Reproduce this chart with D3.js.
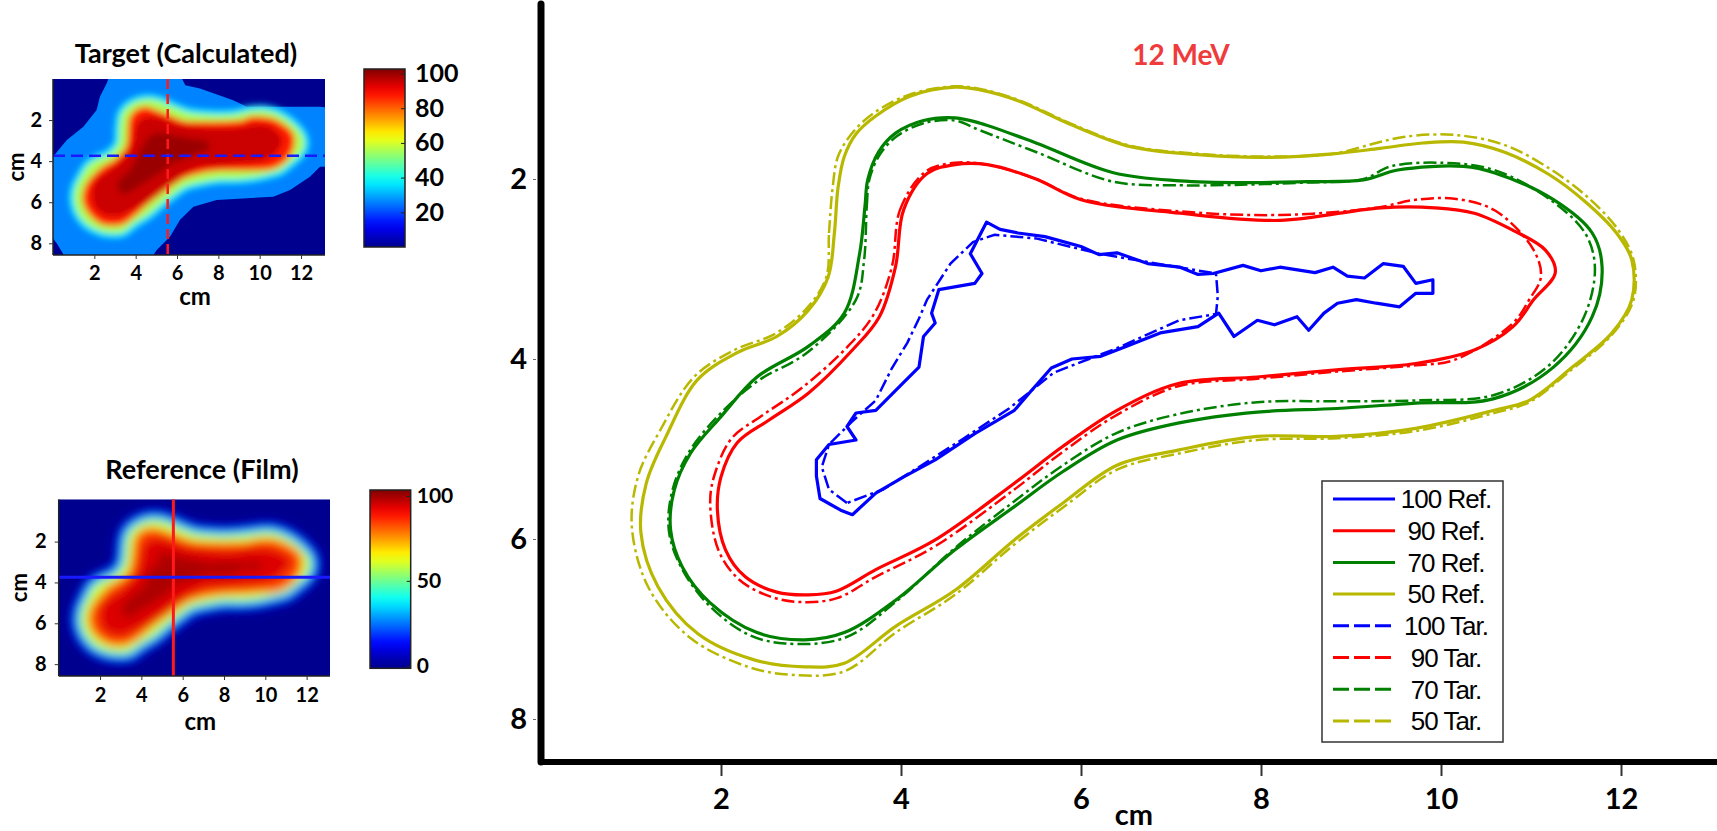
<!DOCTYPE html>
<html>
<head>
<meta charset="utf-8">
<script src="https://cdn.jsdelivr.net/npm/d3@7"></script>
<style>
  body { margin: 0; background: #fff; }
  svg { display: block; font-family: Lato, "Open Sans", sans-serif; }
</style>
</head>
<body>
<svg id="fig" width="1717" height="831"></svg>
<script>
// isodose contours, [x cm, y cm]
var ref100 = [[3.46,5.73],[3.33,5.68],[3.1,5.55],[3.06,5.3],[3.06,5.12],[3.2,4.95],[3.5,4.9],[3.4,4.75],[3.5,4.6],[3.72,4.57],
  [3.98,4.31],[4.2,4.09],[4.25,3.75],[4.38,3.6],[4.34,3.49],[4.42,3.23],[4.82,3.16],[4.9,3.05],[4.77,2.83],[4.95,2.48],
  [5.1,2.56],[5.3,2.6],[5.6,2.64],[6.0,2.75],[6.2,2.84],[6.4,2.82],[6.74,2.94],[7.1,2.98],[7.3,3.06],[7.47,3.05],[7.8,2.96],
  [8.0,3.02],[8.21,2.98],[8.6,3.04],[8.8,2.98],[8.96,3.08],[9.15,3.1],[9.36,2.94],[9.58,2.97],[9.72,3.16],[9.91,3.12],
  [9.91,3.27],[9.72,3.27],[9.54,3.42],[9.28,3.38],[9.06,3.34],[8.85,3.38],[8.7,3.49],[8.53,3.68],[8.4,3.53],[8.15,3.62],
  [7.96,3.57],[7.7,3.75],[7.53,3.49],[7.3,3.64],[6.88,3.71],[6.5,3.86],[6.22,3.97],[5.9,4.0],[5.67,4.1],[5.45,4.35],
  [5.26,4.57],[4.82,4.83],[4.38,5.12],[4.03,5.31],[3.72,5.49]];
var ref90 = [[3.94,2.97],[4.03,2.34],[4.29,1.94],[4.6,1.84],[4.96,1.84],[5.5,2.0],[6.0,2.23],[7.1,2.38],[8.21,2.46],[9.33,2.32],
  [9.93,2.32],[10.37,2.38],[10.8,2.57],[11.16,2.79],[11.27,3.04],[11.03,3.34],[10.8,3.64],[10.37,3.9],[9.72,4.05],[8.84,4.12],
  [7.96,4.2],[7.09,4.27],[6.4,4.57],[5.8,4.97],[5.26,5.38],[4.38,6.01],[3.72,6.34],[3.28,6.58],[2.97,6.62],[2.62,6.59],
  [2.27,6.42],[2.05,6.12],[1.96,5.68],[2.0,5.31],[2.18,4.93],[2.53,4.68],[2.97,4.38],[3.46,3.9],[3.76,3.53]];
var ref70 = [[3.54,2.83],[3.6,2.3],[3.63,2.01],[3.75,1.7],[3.94,1.49],[4.25,1.35],[4.6,1.32],[4.88,1.38],[5.5,1.6],[6.36,1.93],
  [7.1,2.02],[7.85,2.04],[8.5,2.03],[9.14,2.01],[9.52,1.9],[10.25,1.86],[10.59,1.93],[11.25,2.23],[11.68,2.6],[11.79,2.98],
  [11.68,3.53],[11.25,4.09],[10.59,4.44],[9.72,4.49],[8.84,4.55],[7.96,4.59],[7.09,4.71],[6.4,4.9],[5.8,5.25],[5.26,5.64],
  [4.6,6.12],[3.94,6.68],[3.37,7.04],[2.93,7.12],[2.4,7.04],[1.88,6.71],[1.57,6.31],[1.44,5.9],[1.48,5.46],[1.66,5.05],
  [2.0,4.64],[2.4,4.2],[2.97,3.86],[3.37,3.49]];
var ref50 = [[3.19,3.09],[3.26,2.6],[3.3,2.1],[3.37,1.75],[3.5,1.5],[3.72,1.3],[4.1,1.08],[4.6,0.98],[4.88,1.01],[5.3,1.13],
  [5.9,1.4],[6.55,1.64],[7.3,1.73],[8.03,1.76],[8.8,1.72],[9.32,1.66],[9.8,1.6],[10.25,1.59],[10.7,1.7],[11.2,1.95],
  [11.6,2.25],[11.95,2.6],[12.12,2.9],[12.12,3.34],[11.9,3.71],[11.46,4.09],[10.98,4.46],[10.59,4.57],[9.72,4.77],[8.84,4.86],
  [7.96,4.86],[7.09,5.01],[6.4,5.18],[5.8,5.6],[5.26,6.01],[4.6,6.57],[3.94,6.97],[3.37,7.38],[2.93,7.42],[2.36,7.34],
  [1.74,7.05],[1.3,6.53],[1.11,5.93],[1.17,5.38],[1.39,4.86],[1.74,4.23],[2.18,3.93],[2.62,3.75],[2.97,3.46]];

var tar100 = [[3.4,5.6],[3.2,5.45],[3.12,5.2],[3.2,4.95],[3.45,4.7],[3.72,4.46],[3.9,4.1],[4.07,3.82],[4.2,3.55],[4.29,3.34],
  [4.55,2.94],[4.8,2.7],[5.04,2.62],[5.5,2.66],[6.2,2.83],[6.9,2.95],[7.5,3.05],[7.52,3.3],[7.5,3.5],[7.09,3.57],[6.4,3.88],
  [5.7,4.15],[5.2,4.55],[4.7,4.88],[4.2,5.2],[3.8,5.45]];
var tar90 = [[3.9,2.97],[3.99,2.34],[4.27,1.92],[4.6,1.82],[4.96,1.84],[5.5,2.0],[6.0,2.22],[7.1,2.36],[8.21,2.4],[9.28,2.32],
  [9.72,2.23],[10.15,2.22],[10.6,2.35],[11.03,2.79],[11.11,3.09],[10.98,3.34],[10.8,3.6],[10.15,4.01],[9.72,4.07],[8.84,4.14],
  [7.96,4.22],[7.09,4.3],[6.4,4.62],[5.8,5.03],[5.26,5.45],[4.38,6.08],[3.72,6.42],[3.28,6.66],[2.88,6.7],[2.55,6.64],
  [2.2,6.45],[1.97,6.12],[1.88,5.57],[1.94,5.25],[2.12,4.88],[2.47,4.62],[2.9,4.32],[3.4,3.87],[3.7,3.5]];
var tar70 = [[3.59,2.9],[3.62,2.3],[3.65,2.0],[3.77,1.72],[3.96,1.52],[4.25,1.38],[4.6,1.35],[4.88,1.46],[5.5,1.7],[6.36,2.03],
  [7.1,2.07],[7.47,2.07],[8.5,2.04],[9.14,2.0],[9.44,1.86],[10.02,1.82],[10.59,1.9],[11.2,2.22],[11.6,2.6],[11.71,2.98],
  [11.59,3.53],[11.2,4.07],[10.59,4.4],[9.72,4.46],[8.84,4.47],[7.96,4.48],[7.09,4.61],[6.4,4.82],[5.8,5.18],[5.26,5.58],
  [4.6,6.1],[3.94,6.7],[3.37,7.1],[2.71,7.16],[2.3,7.06],[1.85,6.72],[1.55,6.3],[1.42,5.9],[1.46,5.46],[1.64,5.04],
  [1.98,4.62],[2.4,4.25],[2.97,3.92],[3.5,3.34]];
var tar50 = [[3.17,3.09],[3.2,2.6],[3.24,2.1],[3.3,1.75],[3.45,1.5],[3.68,1.28],[4.1,1.06],[4.6,0.97],[4.88,1.0],[5.3,1.12],
  [5.9,1.39],[6.55,1.63],[7.3,1.72],[8.03,1.75],[8.8,1.72],[9.28,1.6],[9.6,1.53],[10.15,1.51],[10.7,1.62],[11.2,1.88],
  [11.65,2.22],[11.98,2.58],[12.14,2.9],[12.14,3.34],[11.9,3.73],[11.45,4.12],[10.98,4.48],[10.59,4.6],[9.72,4.8],[8.84,4.88],
  [7.96,4.9],[7.09,5.05],[6.4,5.23],[5.8,5.65],[5.26,6.06],[4.6,6.62],[3.94,7.04],[3.37,7.47],[2.8,7.51],[2.3,7.42],
  [1.66,7.1],[1.2,6.55],[1.01,5.87],[1.08,5.3],[1.32,4.8],[1.7,4.2],[2.15,3.9],[2.6,3.72],[2.95,3.44]];

// low dose (~25 %) plateau of the calculated map
var targetLowDose = [[0,3.78],[0.67,2.97],[1.47,2.32],[2.11,1.51],[2.27,0.87],[2.6,0.21],[2.75,-0.2],[6.15,-0.2],[6.4,0.3],
  [7.11,0.46],[8.72,1.03],[9.37,1.35],[12.92,1.35],[13.4,1.4],[13.4,4.27],[12.92,4.27],[12.43,4.76],[11.47,5.41],[10.66,5.73],
  [7.92,5.89],[6.79,6.22],[6.14,6.87],[5.66,7.68],[5.02,8.33],[4.7,8.8],[0.66,8.8],[0.18,8.0],[-0.2,7.5],[-0.2,3.78]];

var levels = [100, 90, 70, 50];
var levelColors = ['#0000ff', '#ff0000', '#008000', '#b8b800'];
var refContours = [ref100, ref90, ref70, ref50];
var tarContours = [tar100, tar90, tar70, tar50];
var legendLabels = ['100 Ref.', '90 Ref.', '70 Ref.', '50 Ref.', '100 Tar.', '90 Tar.', '70 Tar.', '50 Tar.'];

var mainXTicks = [2, 4, 6, 8, 10, 12], mainYTicks = [2, 4, 6, 8];
var heatXTicks = [2, 4, 6, 8, 10, 12], heatYTicks = [2, 4, 6, 8];
var calcBarTicks = [20, 40, 60, 80, 100], filmBarTicks = [0, 50, 100];
var profileX = 5.55, profileY = 3.74;   // profile lines on the maps

var svg = d3.select('#fig');
svg.append('rect').attr('width', 1717).attr('height', 831).attr('fill', '#fff');
var defs = svg.append('defs');

function jet(max) {
  return d3.scaleLinear()
    .domain([0, .125, .375, .625, .875, 1].map(function(t) { return t * max; }))
    .range(['#00008f', '#0000ff', '#00ffff', '#ffff00', '#ff0000', '#800000'])
    .clamp(true);
}

function boldText(sel, size) {
  sel.selectAll('text').attr('font-family', 'Lato, sans-serif').attr('font-weight', 'bold')
     .attr('font-size', size).attr('fill', '#000');
}

function heatPanel(o) {
  var x = d3.scaleLinear().domain(o.xDomain).range(o.xRange),
      y = d3.scaleLinear().domain(o.yDomain).range(o.yRange),
      color = jet(o.cmax),
      w = o.xRange[1] - o.xRange[0],
      h = o.yRange[1] - o.yRange[0];

  defs.append('clipPath').attr('id', o.id + '-clip').append('rect')
      .attr('x', o.xRange[0]).attr('y', o.yRange[0]).attr('width', w).attr('height', h);
  defs.append('filter').attr('id', o.id + '-blur').attr('filterUnits', 'userSpaceOnUse')
      .attr('x', o.xRange[0] - 30).attr('y', o.yRange[0] - 30).attr('width', w + 60).attr('height', h + 60)
      .append('feGaussianBlur').attr('stdDeviation', o.blur);

  var shape = d3.line().x(function(d) { return x(d[0]); }).y(function(d) { return y(d[1]); })
                .curve(d3.curveCatmullRomClosed);
  var poly = d3.line().x(function(d) { return x(d[0]); }).y(function(d) { return y(d[1]); })
               .curve(d3.curveLinearClosed);

  var plot = svg.append('g').attr('clip-path', 'url(#' + o.id + '-clip)');
  plot.append('rect').attr('x', o.xRange[0]).attr('y', o.yRange[0]).attr('width', w).attr('height', h)
      .attr('fill', color(0));
  if (o.low) plot.append('path').attr('d', poly(o.low)).attr('fill', color(o.lowValue));

  var soft = plot.append('g').attr('filter', 'url(#' + o.id + '-blur)');
  var outer = o.contours[3];
  o.glow.forEach(function(gl) {
    soft.append('path').attr('d', shape(outer)).attr('fill', 'none')
        .attr('stroke', color(gl[0])).attr('stroke-width', gl[1]).attr('stroke-linejoin', 'round');
  });
  [3, 2, 1, 0].forEach(function(i) {
    soft.append('path').attr('d', shape(o.contours[i])).attr('fill', color(o.fills[i]));
  });

  // profile lines
  plot.append('line').attr('x1', x(profileX)).attr('x2', x(profileX))
      .attr('y1', o.yRange[0]).attr('y2', o.yRange[1])
      .attr('stroke', '#ff1a1a').attr('stroke-width', o.dashed ? 2.5 : 3)
      .attr('stroke-dasharray', o.dashed ? '10,5' : null);
  plot.append('line').attr('x1', o.xRange[0]).attr('x2', o.xRange[1])
      .attr('y1', y(profileY)).attr('y2', y(profileY))
      .attr('stroke', '#1a1aff').attr('stroke-width', o.dashed ? 2.5 : 3)
      .attr('stroke-dasharray', o.dashed ? '12,6' : null);

  var ax = svg.append('g').attr('transform', 'translate(0,' + o.yRange[1] + ')')
              .call(d3.axisBottom(x).tickValues(heatXTicks).tickSize(4).tickPadding(o.xPad));
  var ay = svg.append('g').attr('transform', 'translate(' + o.xRange[0] + ',0)')
              .call(d3.axisLeft(y).tickValues(heatYTicks).tickSize(4).tickPadding(o.yPad));
  [ax, ay].forEach(function(a) {
    a.select('.domain').attr('stroke', '#222').attr('stroke-width', 1.5);
    a.selectAll('.tick line').attr('stroke', '#333');
    boldText(a, 20);
  });
  ay.select('.domain').attr('d', 'M0,' + o.yRange[0] + 'V' + o.yRange[1]);
  ax.select('.domain').attr('d', 'M' + o.xRange[0] + ',0H' + o.xRange[1]);

  svg.append('text').attr('x', o.title[1]).attr('y', o.title[2]).attr('text-anchor', 'middle')
     .attr('font-weight', 'bold').attr('font-size', 27).text(o.title[0]);
  svg.append('text').attr('x', (o.xRange[0] + o.xRange[1]) / 2 + 6).attr('y', o.xLabelY)
     .attr('text-anchor', 'middle').attr('font-weight', 'bold').attr('font-size', 24).text('cm');
  svg.append('text').attr('transform', 'translate(' + o.yLabelX + ',' + ((o.yRange[0] + o.yRange[1]) / 2) + ') rotate(-90)')
     .attr('text-anchor', 'middle').attr('font-weight', 'bold').attr('font-size', 22).text('cm');

  // colour bar
  var bar = o.bar,
      by = d3.scaleLinear().domain(bar.domain).range([bar.y1, bar.y0]),
      grad = defs.append('linearGradient').attr('id', o.id + '-grad')
                 .attr('x1', 0).attr('y1', 1).attr('x2', 0).attr('y2', 0);
  d3.range(0, 1.0001, 0.05).forEach(function(t) {
    var v = bar.domain[0] + t * (bar.domain[1] - bar.domain[0]);
    grad.append('stop').attr('offset', t).attr('stop-color', color(v));
  });
  svg.append('rect').attr('x', bar.x0).attr('y', bar.y0).attr('width', bar.x1 - bar.x0).attr('height', bar.y1 - bar.y0)
     .attr('fill', 'url(#' + o.id + '-grad)').attr('stroke', '#222').attr('stroke-width', 1.5);
  var ac = svg.append('g').attr('transform', 'translate(' + bar.x1 + ',0)')
              .call(d3.axisRight(by).tickValues(bar.ticks).tickSize(-4).tickPadding(bar.pad));
  ac.select('.domain').remove();
  ac.selectAll('.tick line').attr('stroke', '#222');
  boldText(ac, bar.size);
}

heatPanel({
  id: 'calc', xDomain: [0, 13.16], xRange: [53, 325], yDomain: [0, 8.57], yRange: [79, 255],
  cmax: 102.6, blur: 3, contours: tarContours, fills: [100, 95, 87, 56],
  glow: [[36, 10]], low: targetLowDose, lowValue: 26, dashed: true,
  title: ['Target (Calculated)', 186, 63], xLabelY: 305, yLabelX: 24, xPad: 7, yPad: 7,
  bar: { x0: 364, x1: 405, y0: 69, y1: 247, domain: [0, 102.6], ticks: calcBarTicks, pad: 10, size: 25 }
});

heatPanel({
  id: 'film', xDomain: [0, 13.13], xRange: [58.7, 330], yDomain: [-0.07, 8.58], yRange: [499.3, 676],
  cmax: 103.5, blur: 5, contours: refContours, fills: [99, 94, 84, 60],
  glow: [[5, 26], [15, 19], [28, 12], [44, 6]], low: null, dashed: false,
  title: ['Reference (Film)', 202, 479], xLabelY: 730, yLabelX: 27, xPad: 8, yPad: 8,
  bar: { x0: 370, x1: 410.7, y0: 490, y1: 668.3, domain: [-1.5, 103.5], ticks: filmBarTicks, pad: 6, size: 21 }
});

// ---- main isodose comparison ----
var x = d3.scaleLinear().domain([0, 13]).range([541, 1711]),
    y = d3.scaleLinear().domain([0, 8.5]).range([-1, 764]);

var smooth = d3.line().x(function(d) { return x(d[0]); }).y(function(d) { return y(d[1]); })
               .curve(d3.curveCatmullRomClosed.alpha(0.5));
var rough = d3.line().x(function(d) { return x(d[0]); }).y(function(d) { return y(d[1]); })
              .curve(d3.curveLinearClosed);

var iso = svg.append('g');
tarContours.forEach(function(c, i) {
  iso.append('path').attr('d', (i === 0 ? rough : smooth)(c)).attr('fill', 'none')
     .attr('stroke', levelColors[i]).attr('stroke-width', 2.5).attr('stroke-dasharray', '13,4,3,4');
});
refContours.forEach(function(c, i) {
  iso.append('path').attr('d', (i === 0 ? rough : smooth)(c)).attr('fill', 'none')
     .attr('stroke', levelColors[i]).attr('stroke-width', 3.2).attr('stroke-linejoin', 'round');
});

var xAxis = svg.append('g').attr('transform', 'translate(0,765)')
               .call(d3.axisBottom(x).tickValues(mainXTicks).tickSize(11).tickPadding(12));
xAxis.select('.domain').remove();
xAxis.selectAll('.tick line').attr('stroke', '#333').attr('stroke-width', 2);
boldText(xAxis, 29);

var yAxis = svg.append('g').attr('transform', 'translate(536,0)')
               .call(d3.axisLeft(y).tickValues(mainYTicks).tickSize(3).tickPadding(6));
yAxis.select('.domain').remove();
yAxis.selectAll('.tick line').attr('stroke', '#666');
boldText(yAxis, 29);

svg.append('line').attr('x1', 541).attr('x2', 1717).attr('y1', 762).attr('y2', 762)
   .attr('stroke', '#000').attr('stroke-width', 6);
svg.append('line').attr('x1', 541).attr('x2', 541).attr('y1', 4).attr('y2', 762)
   .attr('stroke', '#000').attr('stroke-width', 7).attr('stroke-linecap', 'round');

svg.append('text').attr('x', 1134).attr('y', 825).attr('text-anchor', 'middle')
   .attr('font-weight', 'bold').attr('font-size', 29).text('cm');
svg.append('text').attr('x', 1181).attr('y', 65).attr('text-anchor', 'middle')
   .attr('font-weight', 'bold').attr('font-size', 28).attr('fill', '#ee3b3b').text('12 MeV');

// legend
var legend = svg.append('g').attr('transform', 'translate(1322,481)');
legend.append('rect').attr('width', 181).attr('height', 261)
      .attr('fill', '#fff').attr('stroke', '#333').attr('stroke-width', 1.5);
var rows = legend.selectAll('.row').data(legendLabels).enter().append('g')
                 .attr('transform', function(d, i) { return 'translate(0,' + (18 + i * 31.7) + ')'; });
rows.append('line').attr('x1', 11).attr('x2', 73).attr('y1', 0).attr('y2', 0)
    .attr('stroke', function(d, i) { return levelColors[i % 4]; }).attr('stroke-width', 3)
    .attr('stroke-dasharray', function(d, i) { return i < 4 ? null : '16,5'; });
rows.append('text').attr('x', 124).attr('dy', '0.36em').attr('text-anchor', 'middle')
    .attr('font-family', '"Liberation Sans", Arial, sans-serif').attr('font-size', 26)
    .attr('letter-spacing', -1).attr('fill', '#000').text(function(d) { return d; });
</script>
</body>
</html>
